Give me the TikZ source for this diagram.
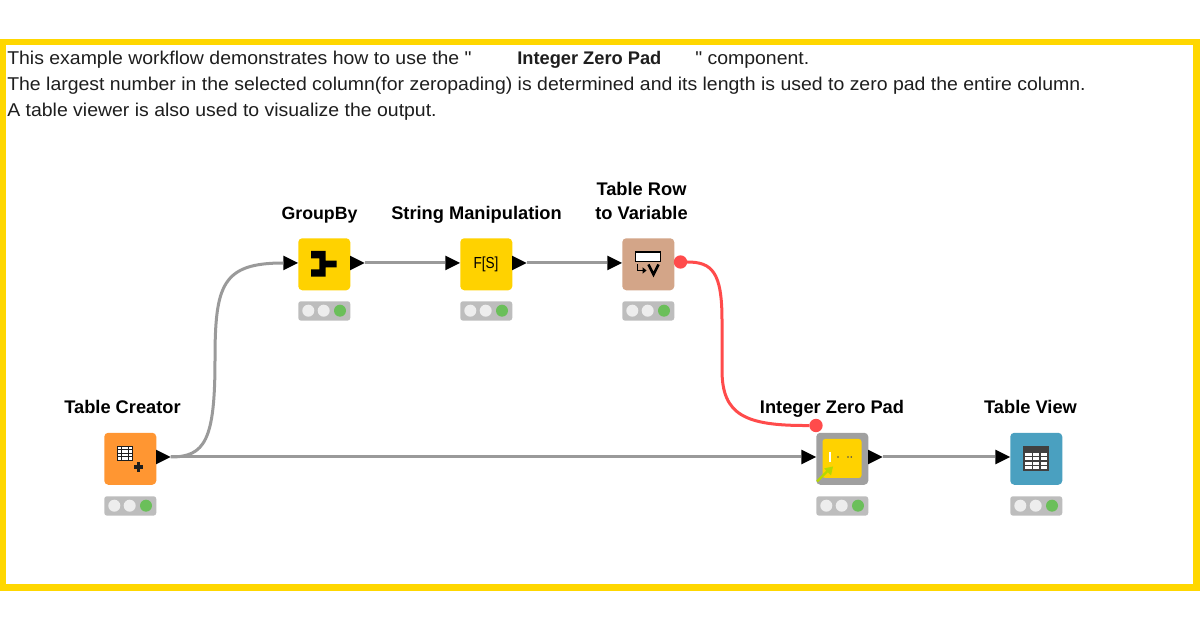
\documentclass[tikz,border=0pt]{standalone}
\usepackage{graphicx}
\usepackage{fontspec}
\setmainfont{Liberation Sans}
\newfontfamily\bodyfont[FakeStretch=1.05]{Liberation Sans}
\usetikzlibrary{shapes.geometric}
\definecolor{framey}{HTML}{FFD700}
\definecolor{kyellow}{HTML}{FFD200}
\definecolor{korange}{HTML}{FF9632}
\definecolor{ktan}{HTML}{D3A588}
\definecolor{kblue}{HTML}{4AA0C0}
\definecolor{kwire}{HTML}{9A9A9A}
\definecolor{kred}{HTML}{FF4B4B}
\definecolor{kstat}{HTML}{BDBDBD}
\definecolor{kgreen}{HTML}{6BBF5A}
\definecolor{kgray}{HTML}{A0A0A0}
\definecolor{kink}{HTML}{1E1E1E}
\definecolor{klime}{HTML}{B6D800}
\tikzset{
 box/.style={rounded corners=3pt,minimum width=39pt,minimum height=39pt,inner sep=0pt,fill=#1},
 statbox/.style={rounded corners=2pt,minimum width=39pt,minimum height=14.5pt,inner sep=0pt,fill=kstat},
 lamp/.style={circle,minimum size=9pt,inner sep=0pt,fill=#1},
 port/.style={isosceles triangle,isosceles triangle stretches,minimum width=11pt,minimum height=11pt,inner sep=0pt,outer sep=0pt,fill=black},
 varport/.style={circle,minimum size=10pt,inner sep=0pt,outer sep=0pt,fill=kred},
 wire/.style={draw=kwire,line width=2.25pt},
 varwire/.style={draw=kred,line width=2.25pt},
 lbl/.style={font=\fontsize{13.7pt}{18pt}\selectfont\bfseries,anchor=base,inner sep=0pt},
 txt/.style={font=\bodyfont\fontsize{13.9pt}{18pt}\selectfont,anchor=base west,inner sep=0pt,text=kink},
}
\newcommand{\kstatus}[3]{% name, left x, top y
 \node[statbox,anchor=north west] (#1) at (#2,#3) {};
 \node[lamp=white!93!black] (#1a) at (#2+10.3,#3+9.7) {};
 \node[lamp=white!93!black] (#1b) at (#2+25.7,#3+9.7) {};
 \node[lamp=kgreen] (#1c) at (#2+42,#3+9.7) {};
}
\begin{document}
\begin{tikzpicture}[x=0.75pt,y=-0.75pt]
\useasboundingbox (0,0) rectangle (1200,630);
\fill[white] (0,0) rectangle (1200,630);
\draw[framey,line width=4.9pt] (3.2,42.2) rectangle (1196.6,587.6);

\node[txt] (t1a) at (7,65) {This example workflow demonstrates how to use the \char34};
\node[txt,font=\fontsize{13.7pt}{18pt}\selectfont\bfseries] (t1b) at (517,65) {Integer Zero Pad};
\node[txt] (t1c) at (695,65) {\char34\ component.};
\node[txt] (t2) at (7,91) {The largest number in the selected column(for zeropading) is determined and its length is used to zero pad the entire column.};
\node[txt] (t3) at (7,117) {A table viewer is also used to visualize the output.};

% nodes
\node[box=korange,anchor=north west] (creator) at (104,432.5) {};
\node[box=kyellow,anchor=north west] (groupby) at (298,238) {};
\node[box=kyellow,anchor=north west] (strman) at (460,238) {};
\node[box=ktan,anchor=north west] (rowvar) at (622,238) {};
\node[box=kgray,anchor=north west] (zeropad) at (816,432.5) {};
\node[box=kblue,anchor=north west] (view) at (1010,432.5) {};
\fill[kyellow,rounded corners=2pt] (822.5,439) rectangle (861.5,478);

\kstatus{creatorS}{104}{496}
\kstatus{groupbyS}{298}{301}
\kstatus{strmanS}{460}{301}
\kstatus{rowvarS}{622}{301}
\kstatus{zeropadS}{816}{496}
\kstatus{viewS}{1010}{496}

% labels
\node[lbl] (l1) at (122.5,414) {Table Creator};
\node[lbl] (l2) at (319.5,220) {\fontsize{13.3pt}{18pt}\selectfont GroupBy};
\node[lbl] (l3) at (476.5,220) {String Manipulation};
\node[lbl] (l4a) at (641.5,195.5) {Table Row};
\node[lbl] (l4b) at (641.5,220) {to Variable};
\node[lbl] (l5) at (832,414) {Integer Zero Pad};
\node[lbl] (l6) at (1030.5,414) {Table View};

% ports
\node[port,anchor=lower side] (creatorO) at (156,457) {};
\node[port,anchor=apex] (groupbyI) at (298,263) {};
\node[port,anchor=lower side] (groupbyO) at (350,263) {};
\node[port,anchor=apex] (strmanI) at (460,263) {};
\node[port,anchor=lower side] (strmanO) at (512,263) {};
\node[port,anchor=apex] (rowvarI) at (622,263) {};
\node[varport] (rowvarO) at (680.5,262) {};
\node[varport] (zeropadV) at (816,425.5) {};
\node[port,anchor=apex] (zeropadI) at (816,457) {};
\node[port,anchor=lower side] (zeropadO) at (868,457) {};
\node[port,anchor=apex] (viewI) at (1010,457) {};

% connectors
\draw[wire] (creatorO.apex) -- (zeropadI.lower side);
\draw[wire] (creatorO.apex) .. controls (205,457) and (215,440) .. (215,360) .. controls (215,285) and (222,263) .. (groupbyI.lower side);
\draw[wire] (groupbyO.apex) -- (strmanI.lower side);
\draw[wire] (strmanO.apex) -- (rowvarI.lower side);
\draw[wire] (zeropadO.apex) -- (viewI.lower side);
\draw[varwire] (rowvarO.east) .. controls (712,262) and (722,272) .. (722,320) -- (722,370) .. controls (722,415) and (745,426) .. (zeropadV.west);

% icons
\fill[kink] (117,446) rectangle (133,461);
\foreach \i in {0,1,2,3} \foreach \j in {0,1,2,3}
  \fill[white] (118+\i*3.7,447+\j*3.4) rectangle +(2.8,2.5);
\fill[kink] (133.5,465.5) rectangle (143,468.8);
\fill[kink] (136.6,462.5) rectangle (139.9,472);

\fill[black] (311,251) -- (325.7,251) -- (325.7,260.7) -- (336.7,260.7) -- (336.7,267.3) -- (325.7,267.3) -- (325.7,276.7) -- (311,276.7) -- (311,269.3) -- (319.3,269.3) -- (319.3,258.3) -- (311,258.3) -- cycle;

\node[inner sep=0pt,text=black] (fs) at (486,264.5) {\fontsize{12pt}{12pt}\selectfont\scalebox{0.85}[1]{F[S]}};

\draw[black,line width=1.1pt,fill=white] (635.5,252) rectangle (660.5,261.5);
\draw[black,line width=1.2pt] (637.5,264) -- (637.5,270.5) -- (645,270.5);
\fill[black] (646.5,270.5) -- (642.5,267.3) -- (642.5,273.7) -- cycle;
\draw[black,line width=2pt] (648.5,264.5) -- (653.5,274.5) -- (658.5,264.5);

\draw[white,line width=1pt] (830,452) -- (830,462);
\fill[black!70] (838,457) circle (0.9) (848,457) circle (0.9) (851.3,457) circle (0.9);
\draw[klime,line width=1.6pt] (817,481.5) -- (829,469.5);
\fill[klime] (833,466.5) -- (824,468.5) -- (831,475.5) -- cycle;

\fill[kink!85!white] (1023,445.7) rectangle (1049,471);
\foreach \i in {0,1,2} \foreach \j in {0,1,2,3}
  \fill[white] (1025+\i*7.9,452.7+\j*4.5) rectangle +(6.5,3.2);
\end{tikzpicture}
\end{document}
